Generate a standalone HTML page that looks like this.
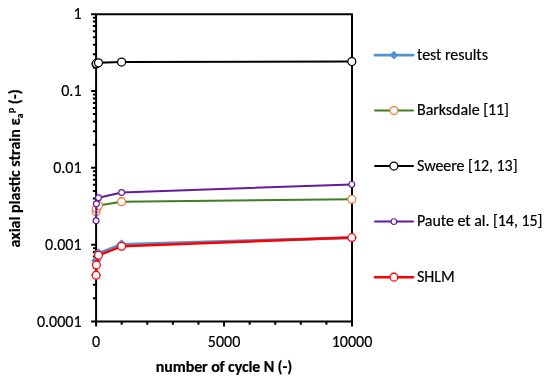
<!DOCTYPE html>
<html><head><meta charset="utf-8"><title>axial plastic strain vs number of cycles</title>
<style>
html,body{margin:0;padding:0;background:#fff;}
svg{display:block;font-family:Carlito,"Liberation Sans",sans-serif;font-size:16px;fill:#000;}
text{stroke:#000;stroke-width:0.2px;}
</style></head><body>
<svg width="550" height="382" viewBox="0 0 550 382">
<rect width="550" height="382" fill="#fff"/>
<path d="M91.10 14.15H96.1 M92.90 67.86H96.1 M92.90 54.33H96.1 M92.90 44.73H96.1 M92.90 37.28H96.1 M92.90 31.20H96.1 M92.90 26.05H96.1 M92.90 21.60H96.1 M92.90 17.67H96.1 M91.10 90.99H96.1 M92.90 144.69H96.1 M92.90 131.16H96.1 M92.90 121.56H96.1 M92.90 114.12H96.1 M92.90 108.03H96.1 M92.90 102.89H96.1 M92.90 98.43H96.1 M92.90 94.50H96.1 M91.10 167.83H96.1 M92.90 221.53H96.1 M92.90 208.00H96.1 M92.90 198.40H96.1 M92.90 190.96H96.1 M92.90 184.87H96.1 M92.90 179.73H96.1 M92.90 175.27H96.1 M92.90 171.34H96.1 M91.10 244.66H96.1 M92.90 298.37H96.1 M92.90 284.84H96.1 M92.90 275.24H96.1 M92.90 267.79H96.1 M92.90 261.71H96.1 M92.90 256.56H96.1 M92.90 252.11H96.1 M92.90 248.18H96.1 M91.10 321.50H96.1 M96.10 321.5V326.50 M121.69 321.5V324.70 M147.28 321.5V324.70 M172.87 321.5V324.70 M198.46 321.5V324.70 M224.05 321.5V326.50 M249.64 321.5V324.70 M275.23 321.5V324.70 M300.82 321.5V324.70 M326.41 321.5V324.70 M352.00 321.5V326.50" stroke="#000" stroke-width="2" fill="none"/>
<rect x="96.1" y="14.15" width="255.90" height="307.35" fill="none" stroke="#000" stroke-width="2" stroke-linejoin="round"/>
<polyline points="96.10,275.20 96.40,260.50 98.50,253.30 121.60,244.40 351.80,237.70" fill="none" stroke="#5094D6" stroke-width="3" stroke-linejoin="round" stroke-linecap="round"/>
<path d="M96.10 270.60L100.70 275.20L96.10 279.80L91.50 275.20Z" fill="#5094D6" stroke="#5094D6" stroke-width="1"/>
<path d="M96.40 255.90L101.00 260.50L96.40 265.10L91.80 260.50Z" fill="#5094D6" stroke="#5094D6" stroke-width="1"/>
<path d="M98.50 248.70L103.10 253.30L98.50 257.90L93.90 253.30Z" fill="#5094D6" stroke="#5094D6" stroke-width="1"/>
<path d="M121.60 239.80L126.20 244.40L121.60 249.00L117.00 244.40Z" fill="#5094D6" stroke="#5094D6" stroke-width="1"/>
<path d="M351.80 233.10L356.40 237.70L351.80 242.30L347.20 237.70Z" fill="#5094D6" stroke="#5094D6" stroke-width="1"/>
<polyline points="96.10,211.80 96.40,208.60 98.50,205.60 121.60,201.70 351.80,199.30" fill="none" stroke="#427C25" stroke-width="2" stroke-linejoin="round" stroke-linecap="round"/>
<circle cx="96.10" cy="211.80" r="3.95" fill="#fff" stroke="#ED7D31" stroke-width="1.3"/>
<circle cx="96.40" cy="208.60" r="3.95" fill="#fff" stroke="#ED7D31" stroke-width="1.3"/>
<circle cx="98.50" cy="205.60" r="3.95" fill="#fff" stroke="#ED7D31" stroke-width="1.3"/>
<circle cx="121.60" cy="201.70" r="3.95" fill="#fff" stroke="#ED7D31" stroke-width="1.3"/>
<circle cx="351.80" cy="199.30" r="3.95" fill="#fff" stroke="#ED7D31" stroke-width="1.3"/>
<polyline points="96.10,64.00 96.40,63.40 98.50,62.80 121.60,62.10 351.80,61.60" fill="none" stroke="#000" stroke-width="2" stroke-linejoin="round" stroke-linecap="round"/>
<circle cx="96.10" cy="64.00" r="4.0" fill="#fff" stroke="#000" stroke-width="1.25"/>
<circle cx="96.40" cy="63.40" r="4.0" fill="#fff" stroke="#000" stroke-width="1.25"/>
<circle cx="98.50" cy="62.80" r="4.0" fill="#fff" stroke="#000" stroke-width="1.25"/>
<circle cx="121.60" cy="62.10" r="4.0" fill="#fff" stroke="#000" stroke-width="1.25"/>
<circle cx="351.80" cy="61.60" r="4.0" fill="#fff" stroke="#000" stroke-width="1.25"/>
<polyline points="96.10,220.70 96.40,203.80 98.50,197.70 121.60,192.50 351.80,184.40" fill="none" stroke="#651B9C" stroke-width="2" stroke-linejoin="round" stroke-linecap="round"/>
<circle cx="96.10" cy="220.70" r="2.9" fill="#fff" stroke="#651B9C" stroke-width="1.15"/>
<circle cx="96.40" cy="203.80" r="2.9" fill="#fff" stroke="#651B9C" stroke-width="1.15"/>
<circle cx="98.50" cy="197.70" r="2.9" fill="#fff" stroke="#651B9C" stroke-width="1.15"/>
<circle cx="121.60" cy="192.50" r="2.9" fill="#fff" stroke="#651B9C" stroke-width="1.15"/>
<circle cx="351.80" cy="184.40" r="2.9" fill="#fff" stroke="#651B9C" stroke-width="1.15"/>
<polyline points="96.10,275.30 96.40,264.90 98.50,255.30 121.60,246.30 351.80,237.60" fill="none" stroke="#FF0000" stroke-width="2.5" stroke-linejoin="round" stroke-linecap="round"/>
<circle cx="96.10" cy="275.30" r="3.9" fill="#fff" stroke="#FF0000" stroke-width="1.3"/>
<circle cx="96.40" cy="264.90" r="3.9" fill="#fff" stroke="#FF0000" stroke-width="1.3"/>
<circle cx="98.50" cy="255.30" r="3.9" fill="#fff" stroke="#FF0000" stroke-width="1.3"/>
<circle cx="121.60" cy="246.30" r="3.9" fill="#fff" stroke="#FF0000" stroke-width="1.3"/>
<circle cx="351.80" cy="237.60" r="3.9" fill="#fff" stroke="#FF0000" stroke-width="1.3"/>
<text x="81.5" y="19.35" text-anchor="end" textLength="8.109375" lengthAdjust="spacingAndGlyphs">1</text>
<text x="81.5" y="96.19" text-anchor="end" textLength="20.265625" lengthAdjust="spacingAndGlyphs">0.1</text>
<text x="81.5" y="173.03" text-anchor="end" textLength="28.375" lengthAdjust="spacingAndGlyphs">0.01</text>
<text x="81.5" y="249.86" text-anchor="end" textLength="36.484375" lengthAdjust="spacingAndGlyphs">0.001</text>
<text x="81.5" y="326.70" text-anchor="end" textLength="44.59375" lengthAdjust="spacingAndGlyphs">0.0001</text>
<text x="96.10" y="346.6" text-anchor="middle" textLength="8.109375" lengthAdjust="spacingAndGlyphs">0</text>
<text x="224.05" y="346.6" text-anchor="middle" textLength="32.4375" lengthAdjust="spacingAndGlyphs">5000</text>
<text x="352.00" y="346.6" text-anchor="middle" textLength="40.546875" lengthAdjust="spacingAndGlyphs">10000</text>
<text x="224" y="371.8" text-anchor="middle" font-weight="bold" letter-spacing="-0.12" textLength="136.3" lengthAdjust="spacingAndGlyphs">number of cycle N (-)</text>
<text transform="translate(19.6 168.4) rotate(-90)" text-anchor="middle" font-weight="bold">axial plastic strain &#949;<tspan font-size="9.5" dy="3.3">a</tspan><tspan font-size="9.5" dx="0.6" dy="-8.6">p</tspan><tspan dy="5.3"> (-)</tspan></text>
<path d="M375 55.15H413" stroke="#5094D6" stroke-width="2.9" stroke-linecap="round"/><path d="M393.90 51.35L397.70 55.15L393.90 58.95L390.10 55.15Z" fill="#5094D6" stroke="#5094D6" stroke-width="1"/>
<path d="M375 110.6H413" stroke="#427C25" stroke-width="2" stroke-linecap="round"/><circle cx="393.90" cy="110.60" r="3.95" fill="#fff" stroke="#ED7D31" stroke-width="1.3"/>
<path d="M375 166.0H413" stroke="#000" stroke-width="2" stroke-linecap="round"/><circle cx="393.90" cy="166.00" r="4.0" fill="#fff" stroke="#000" stroke-width="1.25"/>
<path d="M375 221.6H413" stroke="#651B9C" stroke-width="2" stroke-linecap="round"/><circle cx="393.90" cy="221.60" r="2.9" fill="#fff" stroke="#651B9C" stroke-width="1.15"/>
<path d="M375 277.15H413" stroke="#FF0000" stroke-width="2.5" stroke-linecap="round"/><circle cx="393.90" cy="277.15" r="3.9" fill="#fff" stroke="#FF0000" stroke-width="1.3"/>
<text x="417" y="60.00" letter-spacing="-0.05" textLength="70.89" lengthAdjust="spacingAndGlyphs">test results</text>
<text x="417" y="115.45" letter-spacing="-0.05" textLength="91.98" lengthAdjust="spacingAndGlyphs">Barksdale [11]</text>
<text x="417" y="170.85" letter-spacing="-0.05" textLength="100.5" lengthAdjust="spacingAndGlyphs">Sweere [12, 13]</text>
<text x="417" y="226.45" letter-spacing="-0.05" textLength="125.42" lengthAdjust="spacingAndGlyphs">Paute et al. [14, 15]</text>
<text x="417" y="282.00" letter-spacing="-0.05" textLength="37.53" lengthAdjust="spacingAndGlyphs">SHLM</text>
</svg>
</body></html>
